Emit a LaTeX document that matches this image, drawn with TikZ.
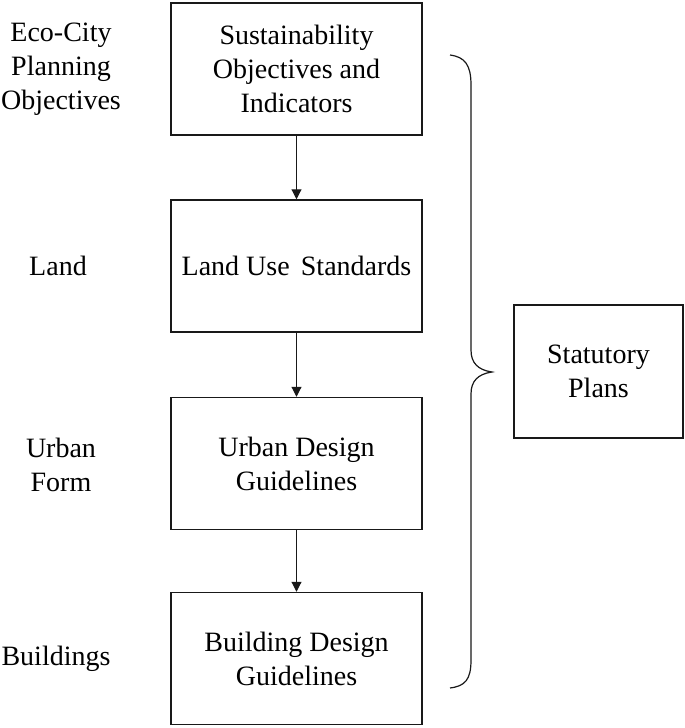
\documentclass[tikz,border=0pt]{standalone}
\usepackage{fontspec}
\setmainfont{Liberation Serif}
\usetikzlibrary{arrows.meta}
\colorlet{boxline}{black!90}
\tikzset{
    stagebox/.style={draw=boxline, line width=1.1pt, minimum width=188.25pt, minimum height=99pt, align=center, font=\fontsize{21}{25.5}\selectfont},
    sidelabel/.style={align=center, font=\fontsize{21}{25.5}\selectfont},
    flow/.style={draw=boxline, line width=0.8pt, -{Triangle[length=7.5pt,width=7.5pt]}}
}

\begin{document}
\begin{tikzpicture}[x=0.75pt,y=-0.75pt]
        \useasboundingbox (0,0) rectangle (685,728);
        % main column
        \node[stagebox] (obj) at (296.5,69) {Sustainability\\Objectives and\\Indicators};
        \node[stagebox] (land) at (296.5,266) {Land Use\hspace{0.4em}Standards};
        \node[stagebox] (urban) at (296.5,463.5) {Urban Design\\Guidelines};
        \node[stagebox] (bldg) at (296.5,658.5) {Building Design\\Guidelines};
        \foreach \a/\b in {obj/land,land/urban,urban/bldg}
        {
            \draw[flow] (\a.south) -- (\b.north);
        }
        % left labels
        \node[sidelabel] (objlabel) at (61,69) {Eco-City\\Planning\\Objectives};
        \node[sidelabel] (landlabel) at (58,266) {Land};
        \node[sidelabel] (urbanlabel) at (61,465) {Urban\\Form};
        \node[sidelabel] (bldglabel) at (56,659) {Buildings};
        % brace and plans
        \draw[boxline, line width=0.9pt] (450,55) .. controls (465,57) and (471,65) .. (471,85)
            -- (471,350) .. controls (471,363) and (478,370) .. (492,372)
            .. controls (478,374) and (471,381) .. (471,394)
            -- (471,660) .. controls (471,680) and (465,686) .. (450,688);
        \node[stagebox, minimum width=126.75pt, minimum height=99.75pt] (plans) at (598.5,371.5) {Statutory\\Plans};
    \end{tikzpicture}
\end{document}
